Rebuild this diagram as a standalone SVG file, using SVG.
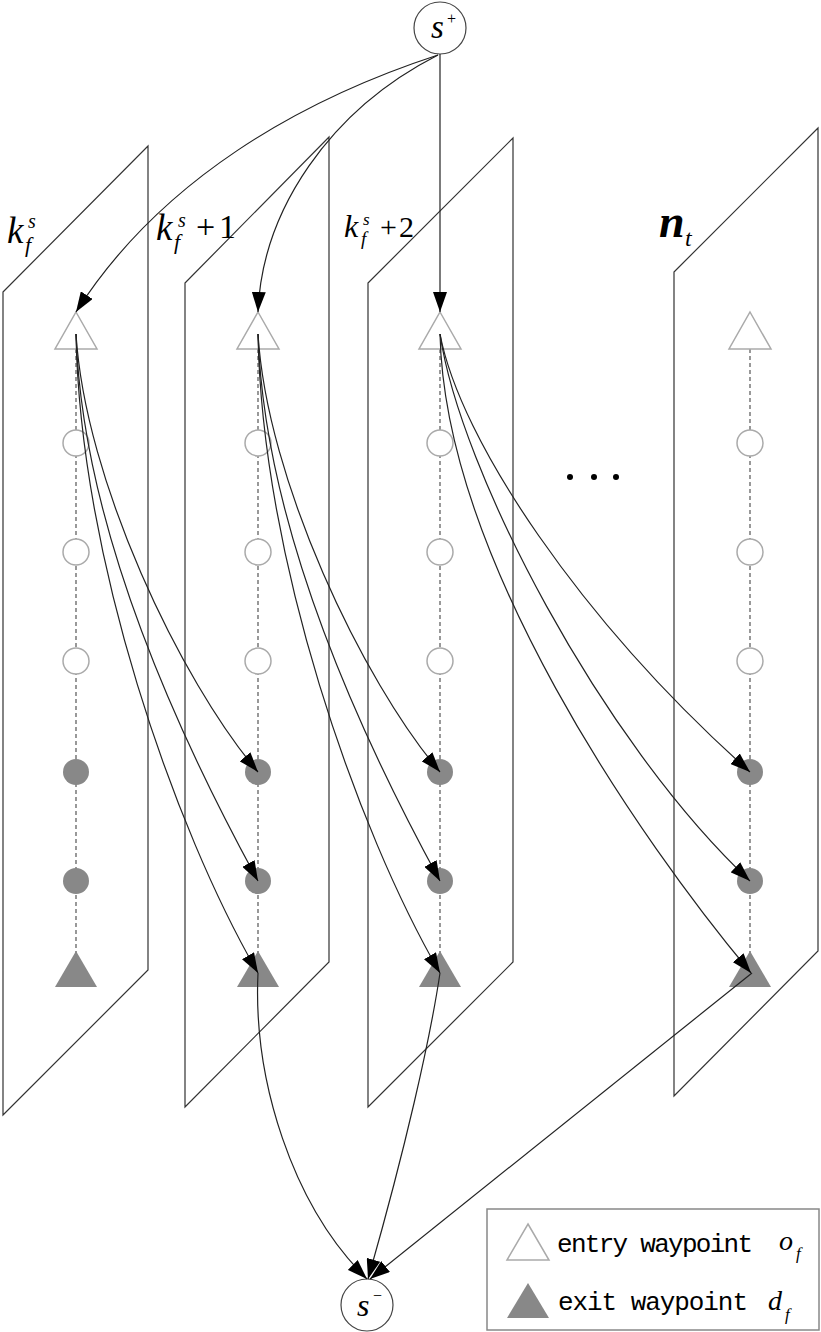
<svg xmlns="http://www.w3.org/2000/svg" width="821" height="1332" viewBox="0 0 821 1332">
<style>
.plane{fill:none;stroke:#333;stroke-width:1.2}
.dash{stroke:#555;stroke-width:1.2;stroke-dasharray:4,3;fill:none}
.open{fill:#fff;stroke:#aaa;stroke-width:1.5}
.fill{fill:#888;stroke:none}
.term{fill:#fff;stroke:#444;stroke-width:1.2}
.edge{fill:none;stroke:#222;stroke-width:1.2;marker-end:url(#arr)}
.m{font-family:"Liberation Serif","DejaVu Serif",serif;font-style:italic;fill:#000}
.r{font-family:"Liberation Serif","DejaVu Serif",serif;fill:#000}
.mono{font-family:"Liberation Mono","DejaVu Sans Mono",monospace;font-size:26px;fill:#000}
</style>
<defs>
<marker id="arr" markerUnits="userSpaceOnUse" markerWidth="20" markerHeight="14" refX="20" refY="7" orient="auto">
<path d="M0,0 L20,7 L0,14 z" fill="#000"/>
</marker>
</defs>
<rect width="821" height="1332" fill="#fff"/>

<g id="planes">
<polygon class="plane" points="3,292 148,146 148,970 3,1115"/>
<polygon class="plane" points="185,283 329,137 329,962 185,1107"/>
<polygon class="plane" points="368,283 513,138 513,962 368,1107"/>
<polygon class="plane" points="674,272 818,128 818,951 674,1096"/>
</g>

<g id="labels">
<text class="m" x="7" y="243" font-size="37">k</text>
<text class="m" x="28" y="228" font-size="20">s</text>
<text class="m" x="25" y="252" font-size="22">f</text>

<text class="m" x="156" y="240" font-size="37">k</text>
<text class="m" x="178" y="227" font-size="20">s</text>
<text class="m" x="174" y="249" font-size="22">f</text>
<text class="r" x="196" y="238" font-size="34">+</text>
<text class="r" x="219" y="238" font-size="34">1</text>

<text class="m" x="344" y="237" font-size="32">k</text>
<text class="m" x="363" y="225" font-size="17">s</text>
<text class="m" x="361" y="245" font-size="19">f</text>
<text class="r" x="380" y="237" font-size="30">+</text>
<text class="r" x="399" y="237" font-size="30">2</text>

<text class="m" x="659" y="237" font-size="46" font-weight="bold">n</text>
<text class="m" x="685" y="246" font-size="24">t</text>
</g>

<g id="ellipsis" fill="#000">
<circle cx="570" cy="477" r="3"/>
<circle cx="594" cy="477" r="3"/>
<circle cx="616" cy="477" r="3"/>
</g>

<g id="guides">
<line class="dash" x1="76" y1="349" x2="76" y2="955"/>
<line class="dash" x1="258" y1="349" x2="258" y2="955"/>
<line class="dash" x1="440" y1="349" x2="440" y2="955"/>
<line class="dash" x1="750" y1="349" x2="750" y2="955"/>
</g>

<g id="col1">
<polygon class="open" points="76,312 97,349 55,349"/>
<circle class="open" cx="76" cy="443" r="13"/>
<circle class="open" cx="76" cy="552" r="13"/>
<circle class="open" cx="76" cy="661" r="13"/>
<circle class="fill" cx="76" cy="772" r="13"/>
<circle class="fill" cx="76" cy="881" r="13"/>
<polygon class="fill" points="76,951 97,987 55,987"/>
</g>
<g id="col2">
<polygon class="open" points="258,312 279,349 237,349"/>
<circle class="open" cx="258" cy="443" r="13"/>
<circle class="open" cx="258" cy="552" r="13"/>
<circle class="open" cx="258" cy="661" r="13"/>
<circle class="fill" cx="258" cy="772" r="13"/>
<circle class="fill" cx="258" cy="881" r="13"/>
<polygon class="fill" points="258,951 279,987 237,987"/>
</g>
<g id="col3">
<polygon class="open" points="440,312 461,349 419,349"/>
<circle class="open" cx="440" cy="443" r="13"/>
<circle class="open" cx="440" cy="552" r="13"/>
<circle class="open" cx="440" cy="661" r="13"/>
<circle class="fill" cx="440" cy="772" r="13"/>
<circle class="fill" cx="440" cy="881" r="13"/>
<polygon class="fill" points="440,951 461,987 419,987"/>
</g>
<g id="col4">
<polygon class="open" points="750,312 771,349 729,349"/>
<circle class="open" cx="750" cy="443" r="13"/>
<circle class="open" cx="750" cy="552" r="13"/>
<circle class="open" cx="750" cy="661" r="13"/>
<circle class="fill" cx="750" cy="772" r="13"/>
<circle class="fill" cx="750" cy="881" r="13"/>
<polygon class="fill" points="750,951 771,987 729,987"/>
</g>

<g id="s-plus">
<circle class="term" cx="440" cy="28" r="26"/>
<text class="m" x="431" y="38" font-size="33">s</text>
<text class="r" x="447" y="24" font-size="16">+</text>
</g>
<g id="s-minus">
<circle class="term" cx="367" cy="1305" r="26"/>
<text class="m" x="357" y="1316" font-size="32">s</text>
<text class="r" x="373" y="1301" font-size="16">−</text>
</g>

<g id="connectors">
<path class="edge" d="M438,55 C300,100 160,180 76,312"/>
<path class="edge" d="M438,55 C330,110 262,210 258,312"/>
<path class="edge" d="M440,54 L440,312"/>

<path class="edge" d="M76,334 C85,480 180,680 258,772"/>
<path class="edge" d="M76,334 C82,520 170,720 258,881"/>
<path class="edge" d="M76,334 C80,560 175,830 258,973"/>

<path class="edge" d="M258,334 C267,480 362,680 440,772"/>
<path class="edge" d="M258,334 C264,520 352,720 440,881"/>
<path class="edge" d="M258,334 C262,560 357,830 440,973"/>

<path class="edge" d="M440,334 C460,440 580,620 750,772"/>
<path class="edge" d="M440,334 C460,470 600,740 750,881"/>
<path class="edge" d="M440,334 C445,560 640,840 751,973"/>

<path class="edge" d="M258,973 C253,1080 292,1205 367,1279"/>
<path class="edge" d="M440,973 C430,1040 405,1150 368,1279"/>
<path class="edge" d="M752,973 L370,1279"/>
</g>

<g id="legend">
<rect x="487" y="1209" width="332" height="121" fill="#fff" stroke="#888" stroke-width="1.5"/>
<polygon class="open" points="528,1224 549,1260 507,1260"/>
<polygon class="fill" points="528,1283 549,1318 507,1318"/>
<text class="mono" x="557" y="1252" textLength="196" lengthAdjust="spacing">entry waypoint</text>
<text class="m" x="779" y="1250" font-size="28">o</text>
<text class="m" x="796" y="1259" font-size="17">f</text>
<text class="mono" x="558" y="1310" textLength="190" lengthAdjust="spacing">exit waypoint</text>
<text class="m" x="768" y="1310" font-size="28">d</text>
<text class="m" x="785" y="1320" font-size="17">f</text>
</g>
</svg>
